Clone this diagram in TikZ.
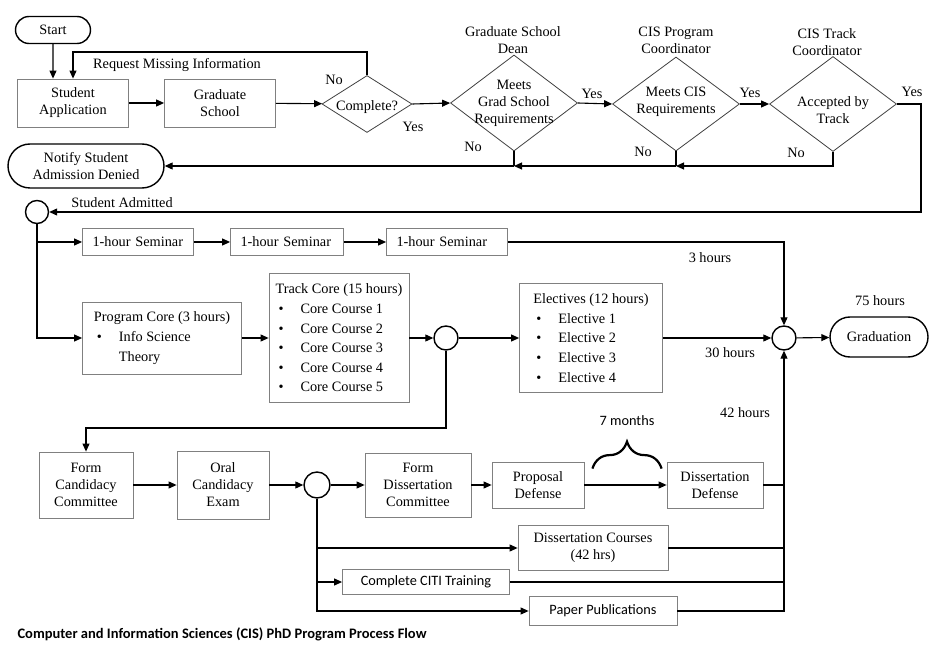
\documentclass[tikz,border=0pt]{standalone}
\usepackage{fontspec}
\setmainfont{Liberation Serif}
\newfontfamily\calib{Carlito}
\usetikzlibrary{arrows.meta,shapes.geometric,shapes.misc,decorations.pathreplacing}
\newcommand\bitem[1]{\hspace*{3pt}\makebox[22pt][l]{\textbullet}#1}
\tikzset{
  box/.style={draw=gray, line width=0.8pt, align=center, inner sep=2pt},
  sem/.style={box, align=left, inner xsep=10pt},
  lst/.style={box, align=left, inner sep=0pt, font=\fontsize{14.3}{19.6}\selectfont},
  sbox/.style={box, font=\calib\fontsize{14.3}{17}\selectfont},
  term/.style={rounded rectangle, draw, line width=1.4pt, align=center, inner sep=0pt},
  decision/.style={diamond, draw=black!75, line width=0.8pt, inner sep=0pt},
  junc/.style={circle, draw, line width=1.4pt, inner sep=0pt, minimum size=24pt},
  txt/.style={align=center, inner sep=0pt},
  arr/.style={-{Triangle[length=8pt,width=7pt]}},
}
\begin{document}
\begin{tikzpicture}[x=1pt,y=-1pt, line width=1.1pt, font=\fontsize{14.3}{17}\selectfont]
  \useasboundingbox (0,0) rectangle (940,652);

  % admission
  \node[term, minimum width=75pt, minimum height=27pt] (start) at (53,30) {Start};
  \node[box, minimum width=111pt, minimum height=48pt] (app) at (73,103) {Student\\Application};
  \node[box, minimum width=111pt, minimum height=48pt] (grad) at (220,103) {Graduate\\School};
  \node[decision, minimum width=90pt, minimum height=57pt,
    label={[txt,yshift=-3pt]center:Complete?}] (complete) at (367,104) {};
  \node[decision, minimum width=127pt, minimum height=96pt,
    label={[txt]center:Meets\\Grad School\\Requirements}] (dean) at (514,103) {};
  \node[decision, minimum width=127pt, minimum height=94pt,
    label={[txt,yshift=2pt]center:Meets CIS\\Requirements}] (prog) at (676,104) {};
  \node[decision, minimum width=127pt, minimum height=95pt,
    label={[txt,yshift=-6pt]center:Accepted by\\Track}] (track) at (833,104) {};
  \node[term, minimum width=156pt, minimum height=44pt] (notify) at (86,166) {Notify Student\\Admission Denied};
  \node[junc, minimum size=23pt] (admit) at (37,212) {};

  \node[txt] (deanlbl) at (513,40) {Graduate School\\Dean};
  \node[txt] (proglbl) at (676,40) {CIS Program\\Coordinator};
  \node[txt] (tracklbl) at (827,42) {CIS Track\\Coordinator};
  \node[txt] (reqlbl) at (177,65) {Request Missing Information};
  \node[txt] (admlbl) at (122,203) {Student Admitted};
  \node[txt] at (334,80) {No};
  \node[txt] at (413,127) {Yes};
  \node[txt] at (592,94) {Yes};
  \node[txt] at (750,93) {Yes};
  \node[txt] at (912,92) {Yes};
  \node[txt] at (473,147) {No};
  \node[txt] at (643,152) {No};
  \node[txt] at (796,153) {No};

  \coordinate (req) at (73,52);
  \coordinate (nprog) at (676,166);
  \coordinate (ndean) at (514,166);
  \coordinate (yes3) at (921,212);

  \draw[arr] (start) -- (start |- app.north);
  \draw[arr] (complete.north) |- (req) -- (app.north);
  \draw[arr] (app) -- (grad);
  \draw[arr] (grad) -- (complete);
  \draw[arr] (complete.east) -- (dean.west);
  \draw[arr] (dean.east) -- (prog.west);
  \draw[arr] (prog.east) -- (track.west);
  \draw[arr] (track.east) -| (yes3) -- (admit.east);
  \draw[arr] (track.south) |- (nprog);
  \draw (prog.south) -- (nprog);
  \draw[arr] (nprog) -- (ndean);
  \draw (dean.south) -- (ndean);
  \draw[arr] (ndean) -- (notify.east);

  % coursework
  \node[sem, text width=91pt, minimum height=27pt] (sem1) at (138,242) {1-hour Seminar};
  \node[sem, text width=93pt, minimum height=27pt] (sem2) at (287,242) {1-hour Seminar};
  \node[sem, text width=101pt, minimum height=27pt] (sem3) at (447,242) {1-hour Seminar};
  \node[lst, minimum width=159pt, minimum height=72pt] (pcore) at (162,338)
    {Program Core (3 hours)\\\bitem{Info Science}\\\hspace*{25pt}Theory};
  \node[lst, minimum width=140pt, minimum height=129pt] (tcore) at (339,338)
    {Track Core (15 hours)\\\bitem{Core Course 1}\\\bitem{Core Course 2}\\\bitem{Core Course 3}\\\bitem{Core Course 4}\\\bitem{Core Course 5}};
  \node[junc] (join1) at (446,338) {};
  \node[lst, minimum width=143pt, minimum height=109pt] (elect) at (591,338)
    {Electives (12 hours)\\\bitem{Elective 1}\\\bitem{Elective 2}\\\bitem{Elective 3}\\\bitem{Elective 4}};
  \node[junc] (join2) at (784,338) {};
  \node[term, minimum width=98pt, minimum height=40pt] (gradu) at (879,337) {Graduation};

  \node[txt] at (710,258) {3 hours};
  \node[txt] at (730,353) {30 hours};
  \node[txt] at (880,301) {75 hours};
  \node[txt] at (745,413) {42 hours};

  \draw[arr] (admit.south) |- (pcore.west);
  \draw[arr] (admit |- sem1) -- (sem1.west);
  \draw[arr] (sem1) -- (sem2);
  \draw[arr] (sem2) -- (sem3);
  \draw[arr] (sem3.east) -| (join2.north);
  \draw[arr] (pcore) -- (tcore);
  \draw[arr] (tcore) -- (join1);
  \draw[arr] (join1) -- (elect);
  \draw[arr] (elect) -- (join2);
  \draw[arr] (join2) -- (gradu);

  % research
  \node[box, minimum width=94pt, minimum height=66pt] (fcand) at (86,485) {Form\\Candidacy\\Committee};
  \node[box, minimum width=92pt, minimum height=68pt] (oral) at (223,485) {Oral\\Candidacy\\Exam};
  \node[junc, minimum size=26pt] (join3) at (317,485) {};
  \node[box, minimum width=106pt, minimum height=64pt] (fdiss) at (418,485) {Form\\Dissertation\\Committee};
  \node[box, minimum width=92pt, minimum height=46pt] (prop) at (538,485) {Proposal\\Defense};
  \node[box, minimum width=96pt, minimum height=46pt] (ddef) at (715,485) {Dissertation\\Defense};
  \node[box, minimum width=150pt, minimum height=45pt] (dcourse) at (593,548) {Dissertation Courses\\(42 hrs)};
  \node[sbox, minimum width=167pt, minimum height=25pt] (citi) at (426,582) {Complete CITI Training};
  \node[sbox, minimum width=148pt, minimum height=29pt] (paper) at (603,611) {Paper Publications};
  \node[txt, font=\calib\fontsize{14.3}{17}\selectfont] (months) at (627,421) {7 months};

  \coordinate (cand) at (86,428);
  \draw[arr] (join1.south) |- (cand) -- (fcand.north);
  \draw[arr] (fcand) -- (oral);
  \draw[arr] (oral) -- (join3);
  \draw[arr] (join3) -- (fdiss);
  \draw[arr] (fdiss) -- (prop);
  \draw[arr] (prop) -- (ddef);
  \draw[line width=2.2pt, decorate, decoration={brace, amplitude=27pt}]
    ([xshift=8pt,yshift=-7pt]prop.north east) -- ([xshift=-5pt,yshift=-7pt]ddef.north west);
  \draw[arr] (join3.south) |- (paper.west);
  \draw[arr] (join3 |- dcourse) -- (dcourse.west);
  \draw[arr] (join3 |- citi) -- (citi.west);
  \draw[arr] (paper.east) -| (join2.south);
  \draw (ddef.east) -- (ddef.east -| join2);
  \draw (dcourse.east) -- (dcourse.east -| join2);
  \draw (citi.east) -- (citi.east -| join2);

  \node[anchor=west, inner sep=0pt, font=\calib\bfseries\fontsize{14.5}{16}\selectfont] (title) at (17,634)
    {Computer and Information Sciences (CIS) PhD Program Process Flow};
\end{tikzpicture}
\end{document}
